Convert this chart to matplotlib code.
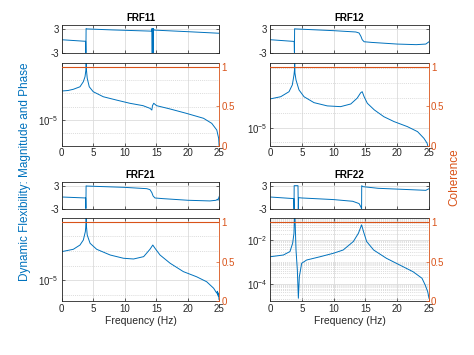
import numpy as np
import matplotlib
matplotlib.use('Agg')
import matplotlib.pyplot as plt
from matplotlib.ticker import FixedLocator, NullFormatter, FixedFormatter

plt.rcParams['font.family'] = ['Liberation Sans', 'DejaVu Sans']
plt.rcParams['mathtext.fontset'] = 'custom'
plt.rcParams['mathtext.rm'] = 'Liberation Sans'
plt.rcParams['mathtext.it'] = 'Liberation Sans:italic'
plt.rcParams['axes.unicode_minus'] = False

BLUE = '#0072BD'
ORANGE = '#D95319'
DARK = '#262626'
GRID = '#dcdcdc'

titles = ['FRF11', 'FRF12', 'FRF21', 'FRF22']
freq_ticks = [0, 5, 10, 15, 20, 25]

# ---- magnitude (log10 of dynamic flexibility) ----
f11 = [0, 1.0, 1.84, 2.9, 3.43, 3.7, 3.85, 3.88, 3.92, 4.05, 4.37, 5.0, 6.6, 8.7, 10.8,
       12.9, 14.0, 14.3, 14.4, 14.6, 15.05, 17.2, 19.8, 22.5, 23.8, 24.6, 24.9, 25.0]
m11 = [-2.82, -2.78, -2.69, -2.50, -2.12, -1.74, -1.2, 0.0, -1.2, -1.86, -2.50, -2.87,
       -3.25, -3.50, -3.74, -3.92, -4.12, -4.25, -3.92, -3.74, -3.92, -4.17, -4.50, -4.87,
       -5.25, -5.75, -6.38, -7.2]

f12 = [0, 1.68, 2.99, 3.51, 3.77, 3.85, 3.88, 3.92, 4.09, 4.56, 5.35, 6.92, 9.01, 11.1,
       12.7, 13.7, 14.26, 14.5, 14.8, 15.3, 16.4, 17.9, 19.5, 21.6, 23.2, 24.2, 24.7, 25.0]
m12 = [-3.06, -2.91, -2.57, -2.11, -1.44, -1.1, 0.0, -1.3, -1.78, -2.45, -2.91, -3.31,
       -3.53, -3.58, -3.40, -3.01, -2.64, -2.57, -2.91, -3.35, -3.80, -4.26, -4.59, -4.93,
       -5.27, -5.72, -6.05, -6.6]

f21 = [0, 1.84, 2.9, 3.43, 3.75, 3.85, 3.88, 3.92, 4.05, 4.5, 5.55, 7.7, 9.8, 11.4, 13.0,
       14.0, 14.45, 14.8, 15.6, 17.2, 19.3, 21.4, 23.0, 24.1, 24.6, 24.7, 24.75, 24.8,
       24.85, 24.9, 24.95, 25.0]
m21 = [-3.05, -2.89, -2.60, -2.26, -1.69, -1.2, 0.0, -1.3, -1.92, -2.48, -2.89, -3.28,
       -3.50, -3.55, -3.39, -2.89, -2.60, -2.82, -3.28, -3.84, -4.41, -4.76, -5.10, -5.54,
       -5.88, -5.75, -6.0, -5.85, -6.1, -6.0, -6.3, -6.34]

f22 = [0, 2.1, 3.14, 3.56, 3.77, 3.88, 4.09, 4.3, 4.46, 4.61, 4.98, 5.76, 7.86, 9.96,
       11.5, 13.1, 13.9, 14.3, 14.4, 14.7, 15.2, 16.3, 18.3, 20.4, 22.5, 23.9, 24.4, 24.8, 25.0]
m22 = [-2.76, -2.68, -2.52, -2.14, -1.68, -0.5, -2.45, -3.37, -4.67, -3.68, -3.06, -2.91,
       -2.76, -2.60, -2.45, -2.06, -1.68, -1.37, -1.29, -1.60, -2.06, -2.45, -2.83, -3.14,
       -3.45, -3.75, -4.06, -4.37, -4.67]

# ---- phase (rad) ----
pf11 = [0, 3.8, 3.84, 3.87, 4.0, 8.0, 14.0, 14.3, 14.34, 14.36, 14.38, 14.40, 14.42,
        14.44, 14.46, 14.48, 14.5, 14.7, 20.0, 25.0]
p11 = [0.25, -0.15, -3.1, 3.1, 3.0, 2.75, 2.45, 2.4, 3.1, -3.1, 3.1, -3.1, 3.1, -3.1,
       3.1, -3.1, 3.1, 2.7, 2.3, 1.9]

pf12 = [0, 3.8, 3.84, 3.87, 4.0, 10.0, 13.5, 14.0, 14.3, 14.5, 14.8, 16.0, 20.0, 23.0, 24.5, 25.0]
p12 = [0.26, -0.18, -3.0, 3.05, 3.0, 2.56, 2.22, 1.97, 1.1, 0.26, -0.26, -0.43, -0.85,
       -1.0, -0.85, -0.26]

pf21 = [0, 3.8, 3.84, 3.87, 4.0, 10.0, 13.5, 14.0, 14.3, 14.5, 14.8, 16.0, 20.0, 23.5,
        24.5, 24.7, 24.8, 24.9, 25.0]
p21 = [0.08, -0.18, -3.0, 3.05, 3.0, 2.65, 2.3, 2.04, 1.25, 0.35, -0.18, -0.35, -0.79,
       -0.97, -0.79, -0.5, -0.8, -0.2, 0.27]

pf22 = [0, 3.75, 3.78, 3.8, 4.4, 4.45, 4.5, 5.0, 10.0, 13.0, 14.0, 14.3, 14.4, 14.42,
        14.6, 17.0, 22.0, 24.5, 25.0]
p22 = [0.08, -0.35, -3.1, 3.1, 3.1, -3.1, -0.1, -0.18, -0.61, -1.06, -1.67, -2.57, -3.1,
       3.1, 2.84, 2.4, 2.04, 1.86, 2.3]

# ---- coherence ----
coh_f = [0, 25]
coh = [1.0, 1.0]

mag_f = [f11, f12, f21, f22]
mag_v = [m11, m12, m21, m22]
ph_f = [pf11, pf12, pf21, pf22]
ph_v = [p11, p12, p21, p22]

# layout in pixels
xs = [(61.7, 219.3), (270, 429), (61.7, 219.3), (270, 429)]
ph_y = [(25, 53.3), (25, 53.3), (182.3, 209.3), (182.3, 209.3)]
mg_y = [(62.7, 145.7), (62.7, 145.7), (218.3, 301.3), (218.3, 301.3)]
mag_lims = [(-6.93, -0.69), (-6.22, -0.61), (-6.43, -0.78), (-4.81, -0.99)]

fig = plt.figure(figsize=(4.74, 3.55), dpi=100)
W, H = 474, 355


def rect(x, y):
    return [x[0] / W, 1 - y[1] / H, (x[1] - x[0]) / W, (y[1] - y[0]) / H]


def style(ax):
    for s in ax.spines.values():
        s.set_color(DARK)
        s.set_linewidth(0.6)
    ax.tick_params(direction='in', length=2.5, width=0.5, colors=DARK, labelsize=7,
                   top=True, pad=2)
    ax.tick_params(which='minor', length=0)


for i in range(4):
    # phase
    ap = fig.add_axes(rect(xs[i], ph_y[i]))
    style(ap)
    ap.plot(ph_f[i], ph_v[i], color=BLUE, lw=0.7)
    ap.set_xlim(0, 25)
    ap.set_ylim(-3.2, 4.0)
    ap.set_yticks([-3, 3])
    ap.set_yticklabels(['-3', '3'])
    ap.set_xticks(freq_ticks)
    ap.set_xticklabels([])
    ap.tick_params(right=True)
    ap.grid(True, color=GRID, lw=0.6)
    ap.set_axisbelow(True)
    ap.set_title(titles[i], fontsize=7, fontweight='bold', color='black', pad=3)

    # magnitude
    am = fig.add_axes(rect(xs[i], mg_y[i]))
    style(am)
    am.set_yscale('log')
    am.plot(mag_f[i], 10.0 ** np.array(mag_v[i]), color=BLUE, lw=0.7)
    am.set_xlim(0, 25)
    lo, hi = mag_lims[i]
    am.set_ylim(10 ** lo, 10 ** hi)
    am.set_xticks(freq_ticks)
    am.set_xticklabels([str(t) for t in freq_ticks])
    if i < 3:
        am.yaxis.set_major_locator(FixedLocator([1e-5]))
        am.yaxis.set_major_formatter(FixedFormatter([r'$10^{-5}$']))
        am.yaxis.set_minor_locator(FixedLocator([1e-7, 1e-6, 1e-4, 1e-3, 1e-2, 1e-1]))
    else:
        am.yaxis.set_major_locator(FixedLocator([1e-4, 1e-2]))
        am.yaxis.set_major_formatter(FixedFormatter([r'$10^{-4}$', r'$10^{-2}$']))
        minors = [m * 10.0 ** e for e in range(-6, 0) for m in range(1, 10)
                  if not (m == 1 and e in (-4, -2))]
        am.yaxis.set_minor_locator(FixedLocator(minors))
    am.yaxis.set_minor_formatter(NullFormatter())
    am.grid(True, which='major', color=GRID, lw=0.6)
    am.grid(True, which='minor', axis='y', color='#d0d0d0', lw=0.5, ls=(0, (1.5, 1.5)))
    am.set_axisbelow(True)
    am.spines['right'].set_visible(False)
    am.tick_params(axis='y', right=False)
    if i >= 2:
        am.set_xlabel('Frequency (Hz)', fontsize=7.5, color=DARK, labelpad=1.5)

    # coherence
    ac = am.twinx()
    ac.plot(coh_f, coh, color=ORANGE, lw=0.8)
    ac.set_ylim(0, 1.05)
    ac.set_yticks([0, 0.5, 1])
    ac.set_yticklabels(['0', '0.5', '1'])
    for k, s in ac.spines.items():
        s.set_visible(k == 'right')
    ac.spines['right'].set_color(ORANGE)
    ac.spines['right'].set_linewidth(0.6)
    ac.tick_params(axis='y', direction='in', length=2.5, width=0.5, colors=ORANGE,
                   labelsize=7, pad=1.5)

fig.text(25 / W, 1 - 172 / H, 'Dynamic Flexibility: Magnitude and Phase', rotation=90,
         ha='center', va='center', color=BLUE, fontsize=8.5)
fig.text(454 / W, 1 - 177 / H, 'Coherence', rotation=90, ha='center', va='center',
         color=ORANGE, fontsize=8.5)

fig.savefig('out.png', dpi=100)
